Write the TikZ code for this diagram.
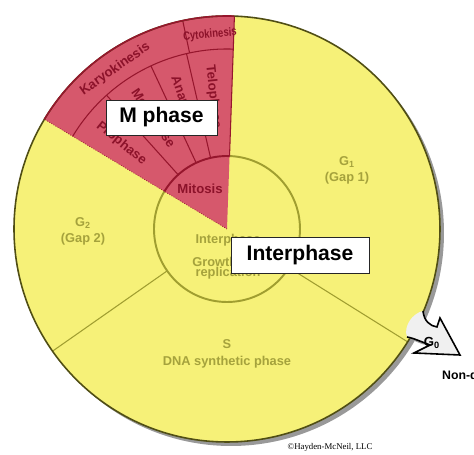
\documentclass[tikz,border=0pt]{standalone}
\usepackage{fontspec}
\setmainfont{Liberation Sans}
\newfontfamily\creditfont{Liberation Serif}

\definecolor{cellyellow}{RGB}{246,241,120}
\definecolor{mred}{RGB}{214,88,108}
\definecolor{mredline}{RGB}{150,22,45}
\definecolor{mredtext}{RGB}{140,18,42}
\definecolor{gline}{RGB}{160,158,48}
\definecolor{gtext}{RGB}{165,162,60}
\definecolor{rimline}{RGB}{80,78,20}

\tikzset{
  phaselabel/.style={text=gtext, font=\fontsize{7.3}{9}\selectfont\bfseries, align=center},
  redlabel/.style={text=mredtext, font=\fontsize{7.5}{8}\selectfont\bfseries},
  tagbox/.style={draw=black!85, fill=white, line width=0.5pt, font=\fontsize{12}{14}\selectfont\bfseries},
  sepline/.style={draw=gline, line width=0.6pt},
  redline/.style={draw=mredline, line width=0.6pt},
}

\begin{document}
\begin{tikzpicture}[x=0.02cm, y=0.02cm]
        \useasboundingbox (-227,-226) rectangle (247,229);

        % Disque du cycle (ombre, fond)
        \fill [black!40] (4,-4) circle [radius=213];
        \fill [cellyellow] (0,0) circle [radius=213];

        % Anneau central et separations G1 / S / G2
        \draw [sepline, line width=1.1pt] (0,0) circle [radius=73];
        \draw [sepline] (215:73) -- (215:213);
        \draw [sepline] (328:73) -- (328:213);

        % Secteur M phase
        \fill [mred] (0,0) -- (149:213) arc [start angle=149, end angle=88, radius=213] -- cycle;
        \draw [mredline, line width=1.1pt] (149:73) arc [start angle=149, end angle=88, radius=73];
        \draw [redline] (149:180) arc [start angle=149, end angle=88, radius=180];
        \foreach \a in {103,115,132}
            \draw [redline] (\a:73) -- (\a:180);
        \draw [redline] (102:180) -- (102:213);
        \draw [redline] (88:73) -- (88:213);
        \draw [mredline, densely dotted, line width=0.4pt] (0,0) -- (149:213);

        % Bord exterieur
        \draw [rimline, line width=0.9pt] (0,0) circle [radius=213];
        \draw [mredline, line width=0.9pt] (149:213) arc [start angle=149, end angle=88, radius=213];

        % Fleche G0
        \coordinate (g0a) at (196,-82);
        \coordinate (g0b) at (210,-98);
        \coordinate (g0c) at (213,-89);
        \coordinate (g0d) at (233,-126);
        \coordinate (g0e) at (187,-124);
        \coordinate (g0f) at (203,-116);
        \coordinate (g0g) at (180,-108);
        \fill [black!40, shift={(3,-4)}] (g0a) .. controls (197,-92) and (203,-97) .. (g0b) -- (g0c) -- (g0d) -- (g0e) -- (g0f)
            .. controls (195,-113) and (186,-109) .. (g0g) -- cycle;
        \fill [black!6] (g0a) .. controls (197,-92) and (203,-97) .. (g0b) -- (g0c) -- (g0d) -- (g0e) -- (g0f)
            .. controls (195,-113) and (186,-109) .. (g0g) .. controls (176,-97) and (186,-84) .. (g0a) -- cycle;
        \draw [black, line width=0.9pt, line join=miter] (g0a) .. controls (197,-92) and (203,-97) .. (g0b) -- (g0c) -- (g0d) -- (g0e) -- (g0f)
            .. controls (195,-113) and (186,-109) .. (g0g);

        % Textes des phases
        \node [phaselabel] (g1) at (120,59) {G\textsubscript{1}\\(Gap 1)};
        \node [phaselabel] (g2) at (-144,-2) {G\textsubscript{2}\\(Gap 2)};
        \node [phaselabel, font=\fontsize{7.3}{9.7}\selectfont\bfseries] (sphase) at (0,-124.5) {S\\DNA synthetic phase};
        \node [phaselabel] (interlabel) at (1,-11) {Interphase};
        \node [phaselabel, font=\fontsize{7.3}{5.6}\selectfont\bfseries] (growth) at (1,-39.5) {Growth and\\replication};

        % Textes du secteur rouge
        \node [redlabel] (mitosis) at (-27,40) {Mitosis};
        \node [redlabel, rotate=35] (karyo) at (125:195) {Karyokinesis};
        \node [redlabel, font=\fontsize{6.8}{7}\selectfont\bfseries, rotate=5] (cyto) at (95:195) {\scalebox{0.8}[1]{Cytokinesis}};
        \node [redlabel, rotate=-84] (telo) at (96:133) {Telophase};
        \node [redlabel, rotate=-71] (ana) at (109:130) {Anaphase};
        \node [redlabel, rotate=-56] (meta) at (124:133) {Metaphase};
        \node [redlabel, rotate=-39] (pro) at (141:136) {Prophase};

        % Etiquettes principales
        \node [tagbox, minimum width=2.22cm, minimum height=0.70cm] (mtag) at (-65.5,111.5) {M phase};
        \node [tagbox, minimum width=2.76cm, minimum height=0.72cm] (itag) at (73,-26) {Interphase};

        % G0 et credit
        \node [font=\fontsize{7.5}{8}\selectfont\bfseries] (g0) at (205,-114) {G\textsubscript{0}};
        \node [font=\fontsize{7}{8}\selectfont\bfseries, anchor=west] (nondiv) at (209,-146) {Non-d};
        \node [font=\creditfont\fontsize{5}{6}\selectfont] (credit) at (103,-218) {\textcopyright Hayden-McNeil, LLC};
    \end{tikzpicture}
\end{document}
